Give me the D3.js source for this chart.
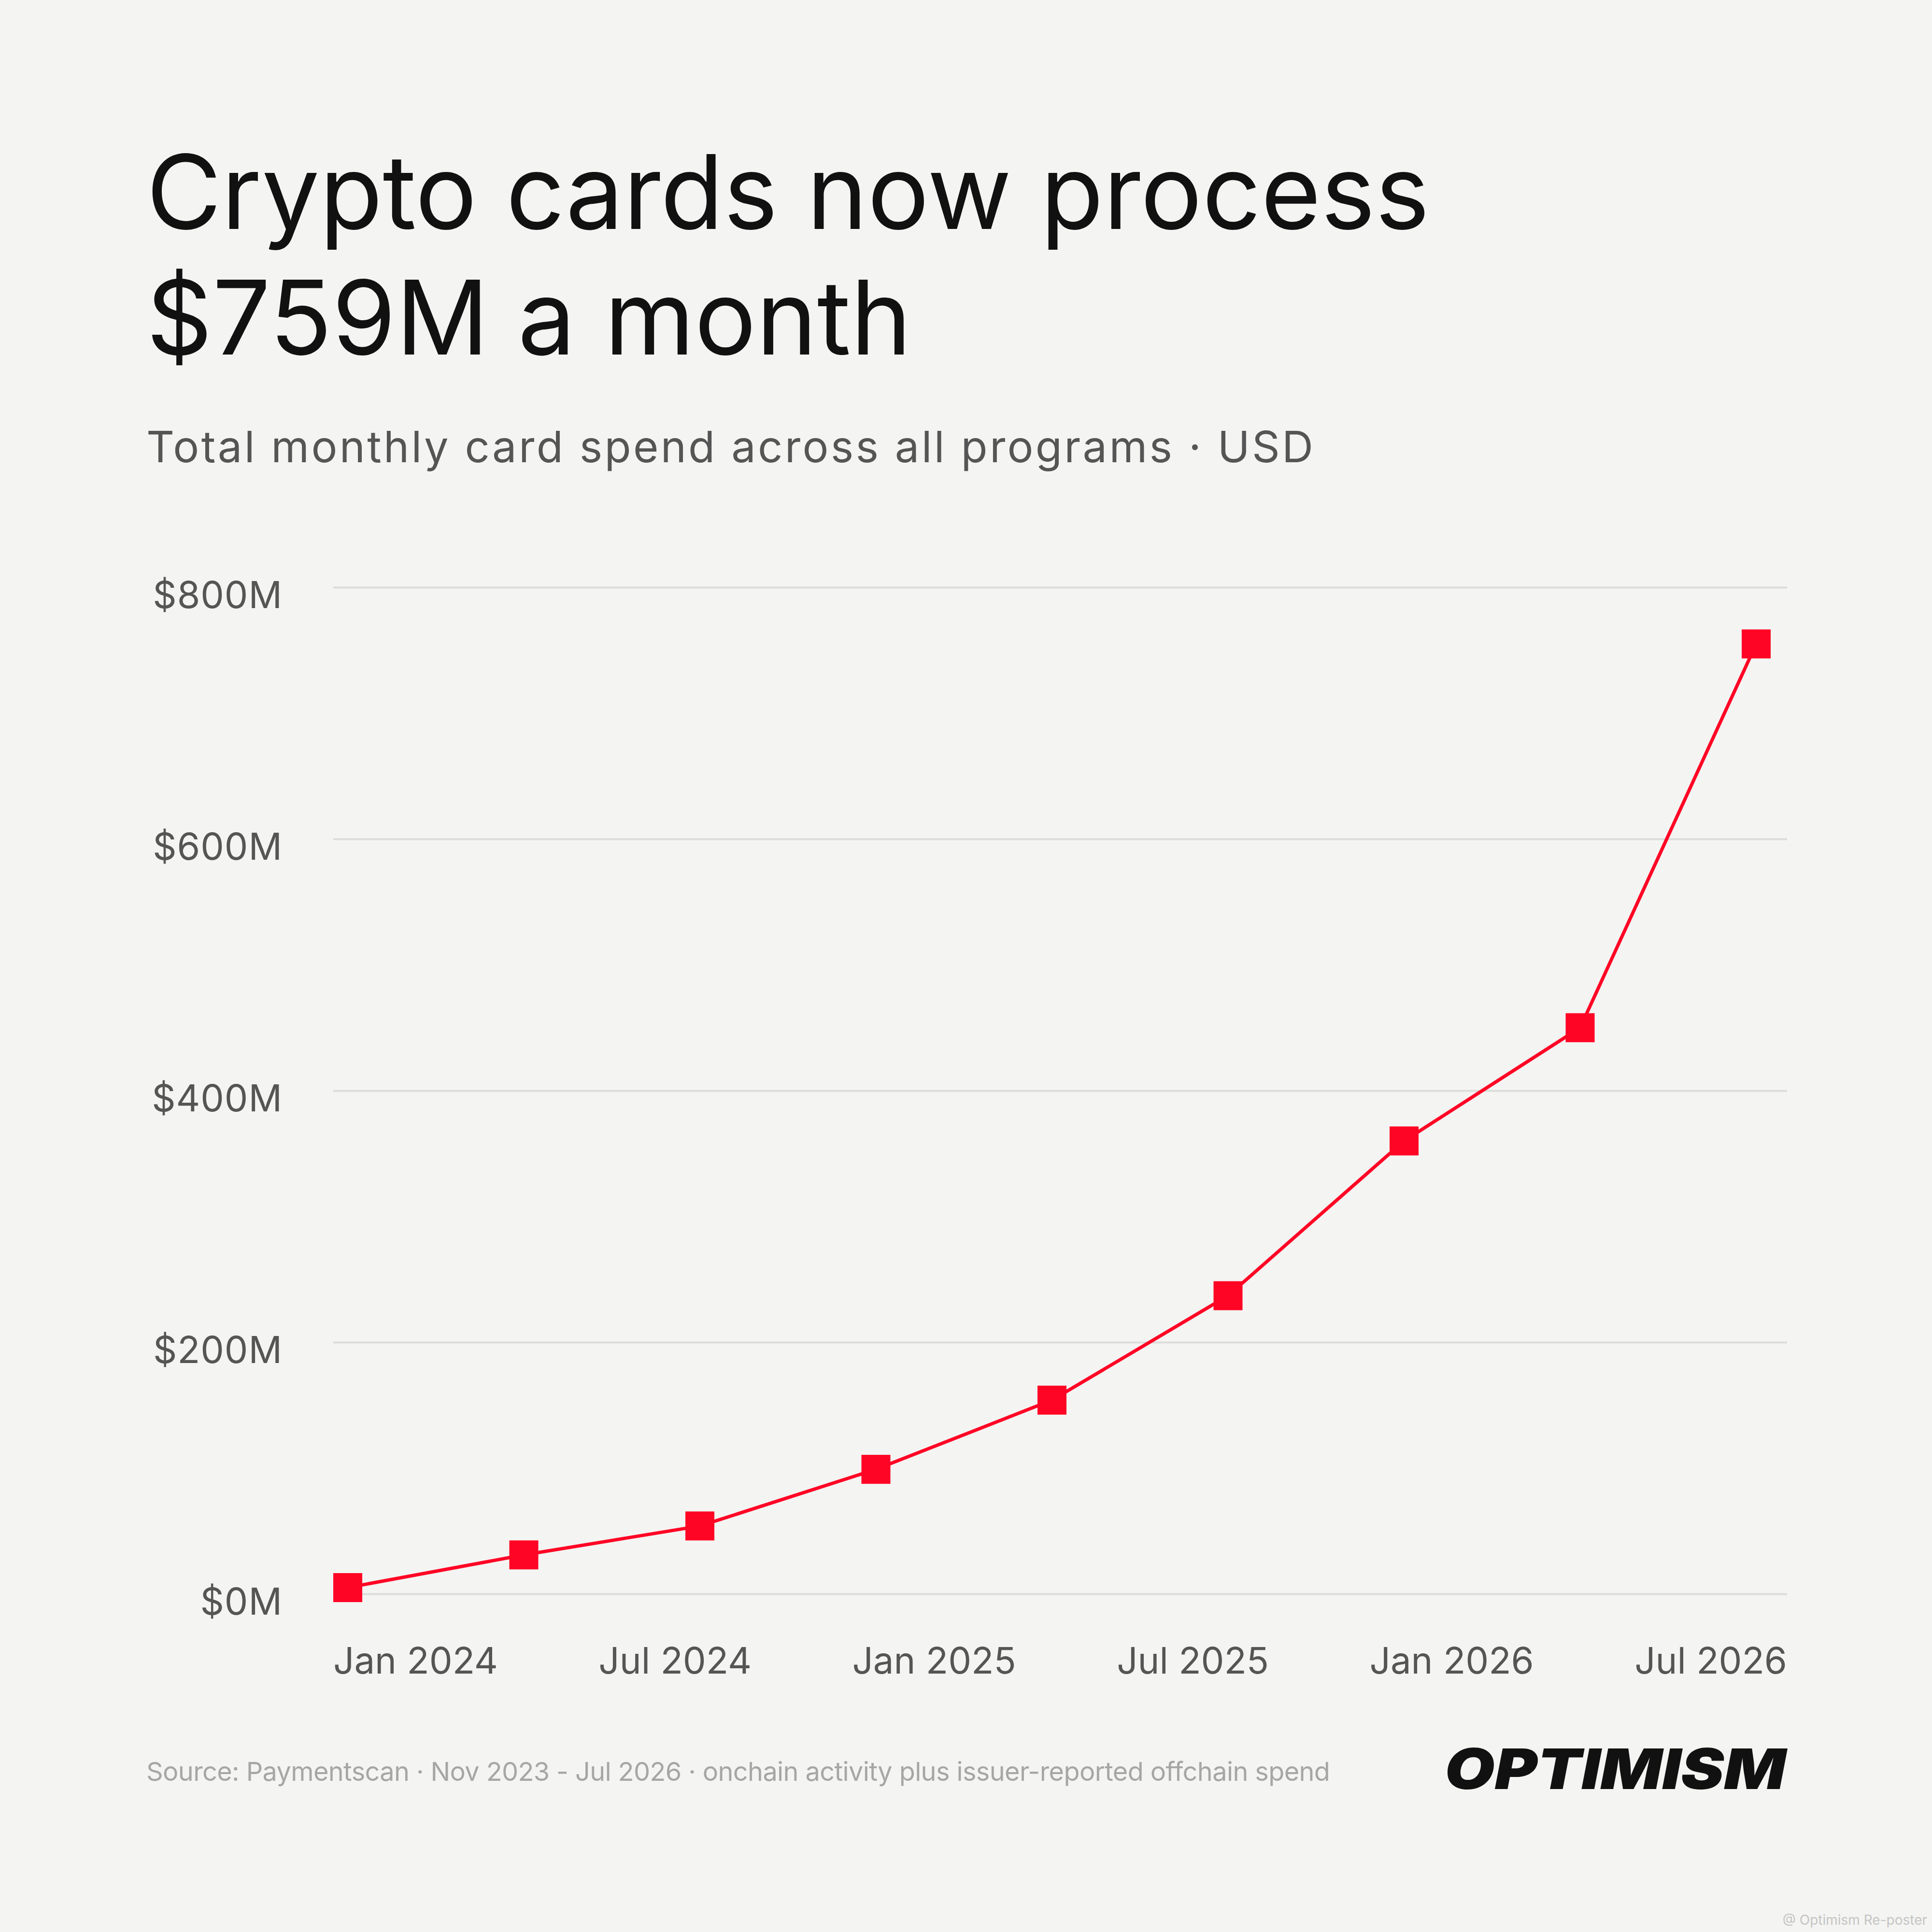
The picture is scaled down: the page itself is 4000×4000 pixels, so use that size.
<!DOCTYPE html>
<html>
<head>
<meta charset="utf-8">
<script src="https://cdn.jsdelivr.net/npm/d3@7"></script>
<style>
  html, body { margin: 0; padding: 0; background: #f4f4f2; }
  svg { display: block; }
  text { font-family: Inter, "Noto Sans", sans-serif; }
</style>
</head>
<body>
<script>
// data
const months = ["Nov 2023", "Mar 2024", "Jul 2024", "Nov 2024", "Mar 2025", "Jul 2025", "Nov 2025", "Mar 2026", "Jul 2026"];
const spend = [5, 31, 54, 99, 154, 237, 360, 450, 755];
const yTicks = [0, 200, 400, 600, 800];
const xLabels = ["Jan 2024", "Jul 2024", "Jan 2025", "Jul 2025", "Jan 2026", "Jul 2026"];
const titleLines = ["Crypto cards now process", "$759M a month"];
const subtitle = "Total monthly card spend across all programs \u00b7 USD";
const source = "Source: Paymentscan \u00b7 Nov 2023 - Jul 2026 \u00b7 onchain activity plus issuer-reported offchain spend";

const W = 4000, H = 4000;
const plot = { left: 690, right: 3700, top: 1216, bottom: 3300 };
const red = "#ff0525";

const svg = d3.select("body").append("svg")
    .attr("width", W)
    .attr("height", H);

svg.append("rect")
    .attr("width", W)
    .attr("height", H)
    .attr("fill", "#f4f4f2");

// title + subtitle
svg.append("g")
    .selectAll("text")
    .data(titleLines)
    .enter()
    .append("text")
    .attr("x", 303)
    .attr("y", (d, i) => 474 + i * 260)
    .attr("font-size", 213)
    .attr("letter-spacing", 0)
    .attr("fill", "#111111")
    .text(d => d);

svg.append("text")
    .attr("x", 303)
    .attr("y", 957)
    .attr("font-size", 90)
    .attr("letter-spacing", 4.3)
    .attr("fill", "#555555")
    .text(subtitle);

var x = d3.scalePoint()
    .domain(months)
    .range([plot.left + 30, plot.right - 64]);

var y = d3.scaleLinear()
    .domain([0, 800])
    .range([plot.bottom, plot.top]);

// gridlines
var grid = svg.append("g")
    .attr("class", "grid")
    .attr("transform", "translate(" + plot.left + ",0)")
    .call(d3.axisLeft(y)
        .tickValues(yTicks)
        .tickSize(-(plot.right - plot.left))
        .tickFormat(""));
grid.select(".domain").remove();
grid.selectAll("line")
    .attr("stroke", "#dcdcda")
    .attr("stroke-width", 4);

// y labels
var yAxis = svg.append("g")
    .attr("transform", "translate(585,0)")
    .call(d3.axisLeft(y)
        .tickValues(yTicks)
        .tickSize(0)
        .tickPadding(0)
        .tickFormat(d => "$" + d + "M"));
yAxis.select(".domain").remove();
yAxis.selectAll("text")
    .attr("font-family", "Inter, 'Noto Sans', sans-serif")
    .attr("font-size", 77)
    .attr("letter-spacing", 1)
    .attr("fill", "#555555")
    .attr("dy", 42);

// x labels, spread edge to edge
var xl = svg.append("g")
    .attr("class", "xlabels")
    .selectAll("text")
    .data(xLabels)
    .enter()
    .append("text")
    .attr("y", 3465)
    .attr("font-size", 76)
    .attr("fill", "#555555")
    .text(d => d);
var widths = [];
xl.each(function() { widths.push(this.getComputedTextLength()); });
var gap = (plot.right - plot.left - d3.sum(widths)) / (xLabels.length - 1);
var pos = plot.left;
xl.attr("x", function(d, i) {
    var p = pos;
    pos += widths[i] + gap;
    return p;
});

// line + markers
var line = d3.line()
    .x((d, i) => x(months[i]))
    .y(d => y(d));

svg.append("path")
    .datum(spend)
    .attr("fill", "none")
    .attr("stroke", red)
    .attr("stroke-width", 7)
    .attr("stroke-linejoin", "round")
    .attr("d", line);

svg.append("g")
    .selectAll("rect")
    .data(spend)
    .enter()
    .append("rect")
    .attr("x", (d, i) => x(months[i]) - 30)
    .attr("y", d => y(d) - 30)
    .attr("width", 60)
    .attr("height", 60)
    .attr("fill", red);

// footer
svg.append("text")
    .attr("x", 303)
    .attr("y", 3687)
    .attr("font-size", 54)
    .attr("letter-spacing", -0.6)
    .attr("fill", "#a6a6a6")
    .text(source);

svg.append("text")
    .attr("x", 2991)
    .attr("y", 3704)
    .attr("font-size", 116)
    .attr("font-weight", 900)
    .attr("font-style", "italic")
    .attr("textLength", 706)
    .attr("lengthAdjust", "spacingAndGlyphs")
    .attr("fill", "#111111")
    .text("OPTIMISM");

svg.append("text")
    .attr("x", 3990)
    .attr("y", 3985)
    .attr("text-anchor", "end")
    .attr("font-size", 28)
    .attr("fill", "#c4c4c4")
    .text("@ Optimism Re-poster");
</script>
</body>
</html>
